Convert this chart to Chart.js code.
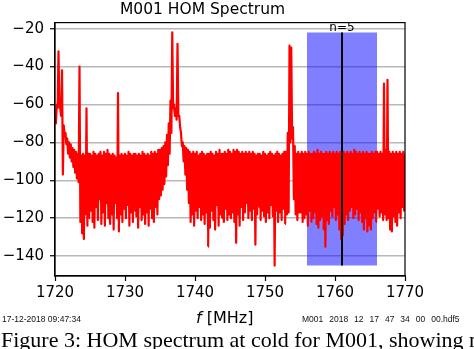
<!DOCTYPE html>
<html>
<head>
<meta charset="utf-8">
<title>M001 HOM Spectrum</title>
<script src="https://cdn.jsdelivr.net/npm/chart.js@4.4.1/dist/chart.umd.min.js"></script>
<style>
    body { margin: 0; width: 474px; height: 349px; overflow: hidden; background: #fff; position: relative; }
    #chart { position: absolute; left: 0; top: 0; }
    .txt { position: absolute; white-space: nowrap; line-height: 1; color: #000; }
    #xlabel { left: 196px; top: 310px; font-family: "DejaVu Sans", sans-serif; font-size: 16px; }
    .note { top: 315px; font-family: "Liberation Sans", sans-serif; font-size: 8.5px; color: #111; }
    #noteLeft { left: 2px; }
    #noteRight { left: 302px; word-spacing: 3.6px; }
    #caption { left: 1px; top: 329px; font-family: "Liberation Serif", serif; font-size: 22px; }
</style>
</head>
<body>
<canvas id="chart" width="474" height="349"></canvas>
<div class="txt" id="xlabel"><i>f</i> [MHz]</div>
<div class="txt note" id="noteLeft">17-12-2018 09:47:34</div>
<div class="txt note" id="noteRight">M001 2018 12 17 47 34 00 00.hdf5</div>
<div class="txt" id="caption">Figure 3: HOM spectrum at cold for M001, showing n</div>

<script>
// spectrum sampled every 0.25 MHz from 1720 MHz
// upper = top of the noise at each step, lower = bottom (dB)
const freqStart = 1720;
const freqStep = 0.25;

const upper = [
    -69, -60, -32, -62,   -42, -71, -75, -78,   -80, -81, -83, -84,   -85, -86, -40, -87,   -86, -87, -62, -86,  // 1720-1724
    -86, -87, -85, -86,   -87, -86, -85, -87,   -85, -86, -84, -86,   -87, -86, -87, -88,   -54, -87, -86, -87,  // 1725-1729
    -86, -87, -85, -86,   -87, -86, -86, -87,   -86, -87, -85, -86,   -87, -86, -87, -85,   -86, -85, -86, -84,  // 1730-1734
    -84, -83, -82, -80,   -76, -70, -58, -22,   -60, -62, -28, -66,   -75, -80, -82, -83,   -84, -85, -86, -85,  // 1735-1739
    -86, -85, -87, -86,   -85, -86, -87, -86,   -86, -85, -86, -87,   -85, -86, -84, -86,   -86, -85, -86, -84,  // 1740-1744
    -85, -86, -84, -85,   -84, -85, -86, -85,   -86, -85, -86, -85,   -86, -85, -86, -87,   -86, -86, -87, -85,  // 1745-1749
    -86, -87, -86, -85,   -86, -87, -86, -85,   -86, -87, -86, -85,   -85, -75, -29, -30,   -72, -82, -86, -85,  // 1750-1754
    -86, -85, -86, -85,   -86, -85, -86, -86,   -85, -86, -84, -86,   -85, -86, -86, -85,   -86, -85, -86, -85,  // 1755-1759
    -86, -85, -86, -85,   -86, -85, -86, -85,   -86, -85, -86, -84,   -85, -86, -85, -86,   -85, -86, -85, -86,  // 1760-1764
    -86, -85, -86, -85,   -85, -86, -85, -86,   -49, -84, -47, -85,   -86, -85, -86, -85,   -86, -85, -86, -85,  // 1765-1769
    -86
];

const lower = [
    -70, -62, -60, -66,   -97, -76, -81, -86,   -88, -90, -93, -96,   -99, -101, -122, -128, -131, -118, -124, -120,
    -116, -122, -125, -114, -121, -110, -123, -117, -124, -112, -120, -123, -118, -126, -112, -120, -127, -118, -122, -115,
    -120, -113, -124, -117, -122, -116, -119, -125, -114, -121, -118, -123, -117, -124, -115, -120, -122, -114, -118, -110,
    -108, -105, -102, -98, -92, -86, -75, -62,   -66, -68, -66, -72,   -82, -90, -97, -105,  -112, -122, -118, -124,
    -116, -120, -114, -121, -118, -123, -117, -135, -125, -116, -121, -126, -113, -124, -118, -120, -122, -115, -121, -118,
    -120, -117, -122, -133, -118, -124, -114, -121, -117, -112, -120, -116, -121, -115, -134, -118, -114, -121, -116, -119,
    -122, -117, -120, -113, -119, -145, -116, -122, -117, -121, -115, -123, -118, -117, -80, -78,   -110, -118, -121, -117,
    -117, -122, -120, -118, -124, -116, -122, -120, -117, -123, -125, -121, -119, -126, -135, -121, -123, -116, -119, -114,
    -121, -118, -126, -131, -129, -123, -118, -121, -116, -114, -120, -118, -115, -121, -117, -122, -126, -120, -127, -124,
    -126, -120, -117, -122, -115, -119, -117, -121, -118, -121, -120, -126, -127, -119, -122, -124, -117, -120, -114, -116,
    -118
];

const xTicks = [1720, 1730, 1740, 1750, 1760, 1770];
const yTicks = [-140, -120, -100, -80, -60, -40, -20];

// n=5 mode window
const modeLabel = 'n=5';
const modeFreq = 1761;
const bandFrom = 1756;
const bandTo = 1766;

const dataMax = Math.max(...upper);
const dataMin = Math.min(...lower);

// one line going top -> bottom -> top through the noise band
const spectrum = [];
upper.forEach((u, i) => {
    const f = freqStart + i * freqStep;
    spectrum.push({ x: f, y: u });
    if (i < upper.length - 1) spectrum.push({ x: f + freqStep / 2, y: lower[i] });
});

const font = 'DejaVu Sans';

const framePlugin = {
    id: 'frame',
    afterDraw(chart) {
        const { ctx, chartArea: a, scales } = chart;
        ctx.save();
        ctx.strokeStyle = '#000';
        ctx.lineWidth = 1.2;
        ctx.strokeRect(a.left, a.top, a.right - a.left, a.bottom - a.top);

        ctx.fillStyle = '#000';
        ctx.font = '12px "' + font + '"';
        ctx.textAlign = 'center';
        ctx.textBaseline = 'bottom';
        ctx.fillText(modeLabel, scales.x.getPixelForValue(modeFreq), scales.y.getPixelForValue(dataMax) + 1);
        ctx.restore();
    }
};

new Chart(document.getElementById('chart'), {
    type: 'line',
    data: {
        datasets: [
            {
                data: [{ x: modeFreq, y: dataMin }, { x: modeFreq, y: dataMax }],
                borderColor: '#000',
                borderWidth: 2,
                order: 0,
            },
            {
                data: spectrum,
                borderColor: '#ff0000',
                borderWidth: 2.2,
                borderJoinStyle: 'round',
                tension: 0.001,   // skips the fast path, which leaves gaps in the noise
                order: 1,
            },
            {
                data: [{ x: bandFrom, y: dataMax }, { x: bandTo, y: dataMax }],
                borderWidth: 0,
                borderColor: 'rgba(0,0,0,0)',
                backgroundColor: 'rgba(0,0,255,0.5)',
                fill: { value: dataMin },
                order: 2,
            },
        ]
    },
    options: {
        animation: false,
        responsive: false,
        layout: { padding: { left: 0, right: 69, top: 0, bottom: 0 } },
        elements: { point: { radius: 0 }, line: { tension: 0 } },
        plugins: {
            legend: { display: false },
            tooltip: { enabled: false },
            title: {
                display: true,
                text: 'M001 HOM Spectrum',
                color: '#000',
                font: { family: font, size: 15.5, weight: 'normal' },
                padding: { top: 1, bottom: 3 },
            },
        },
        scales: {
            x: {
                type: 'linear',
                min: 1720,
                max: 1770,
                afterBuildTicks: s => { s.ticks = xTicks.map(v => ({ value: v })); },
                afterFit: s => { s.height = 73; },
                grid: { drawOnChartArea: false, tickLength: 5, tickColor: '#000', tickWidth: 1.2 },
                border: { color: '#000', width: 1.2 },
                ticks: {
                    color: '#000',
                    font: { family: font, size: 15 },
                    padding: 3,
                    maxRotation: 0,
                    autoSkip: false,
                    callback: v => String(v),
                },
            },
            y: {
                min: -150.5,
                max: -16.8,
                afterBuildTicks: s => { s.ticks = yTicks.map(v => ({ value: v })); },
                afterFit: s => { s.width = 55; },
                grid: { color: '#b8b8b8', lineWidth: 1.5, tickLength: 5, tickColor: '#000', tickWidth: 1.2 },
                border: { color: '#000', width: 1.2 },
                ticks: {
                    color: '#000',
                    font: { family: font, size: 15 },
                    padding: 6,
                    callback: v => String(v).replace('-', '\u2212'),
                },
            },
        },
    },
    plugins: [framePlugin],
});
</script>
</body>
</html>
